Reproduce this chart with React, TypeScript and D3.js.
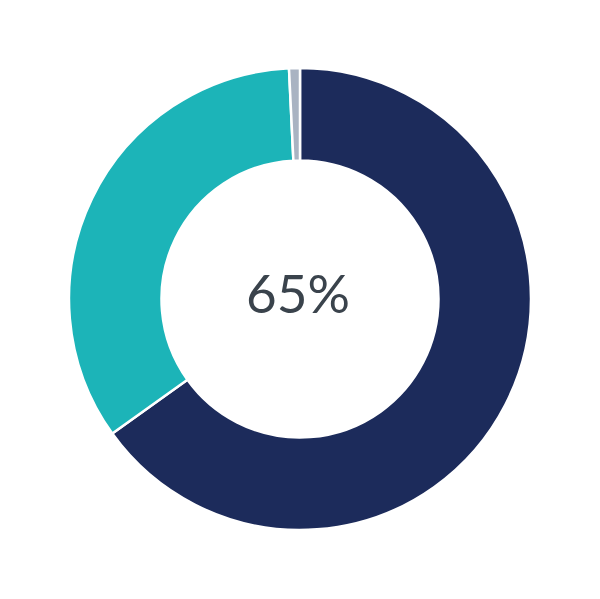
import { useEffect, useRef } from 'react';
import * as d3 from 'd3';

const categories = ['A', 'B', 'C'];
const values = [65.1, 34.14, 0.76];
const colors = ['#1c2b5b', '#1cb4b8', '#a9b3c2'];
const centerLabel = '65%';

const WIDTH = 600;
const HEIGHT = 599;

const DonutChart = () => {
  const ref = useRef<SVGSVGElement | null>(null);

  useEffect(() => {
    if (!ref.current) return;
    const svg = d3.select(ref.current);
    svg.selectAll('*').remove();

    const cx = 300;
    const cy = 299;
    const outer = 231;
    const inner = 138.5;

    const data = categories.map((c, i) => ({ name: c, value: values[i], color: colors[i] }));

    const pie = d3
      .pie<{ name: string; value: number; color: string }>()
      .sort(null)
      .value((d) => d.value);

    const arc = d3
      .arc<d3.PieArcDatum<{ name: string; value: number; color: string }>>()
      .innerRadius(inner)
      .outerRadius(outer);

    const g = svg.append('g').attr('transform', `translate(${cx}, ${cy})`);

    g.selectAll('path')
      .data(pie(data))
      .enter()
      .append('path')
      .attr('d', arc)
      .attr('fill', (d) => d.data.color)
      .attr('stroke', '#ffffff')
      .attr('stroke-width', 2.5);

    g.append('text')
      .attr('x', -2)
      .attr('y', 14)
      .attr('text-anchor', 'middle')
      .style('font-family', 'Lato, sans-serif')
      .style('font-size', '53px')
      .style('fill', '#3a434c')
      .text(centerLabel);
  }, []);

  return <svg ref={ref} width={WIDTH} height={HEIGHT} style={{ display: 'block' }} />;
};

export default function App() {
  return (
    <div style={{ position: 'fixed', top: 0, left: 0, background: '#fff' }}>
      <DonutChart />
    </div>
  );
}
